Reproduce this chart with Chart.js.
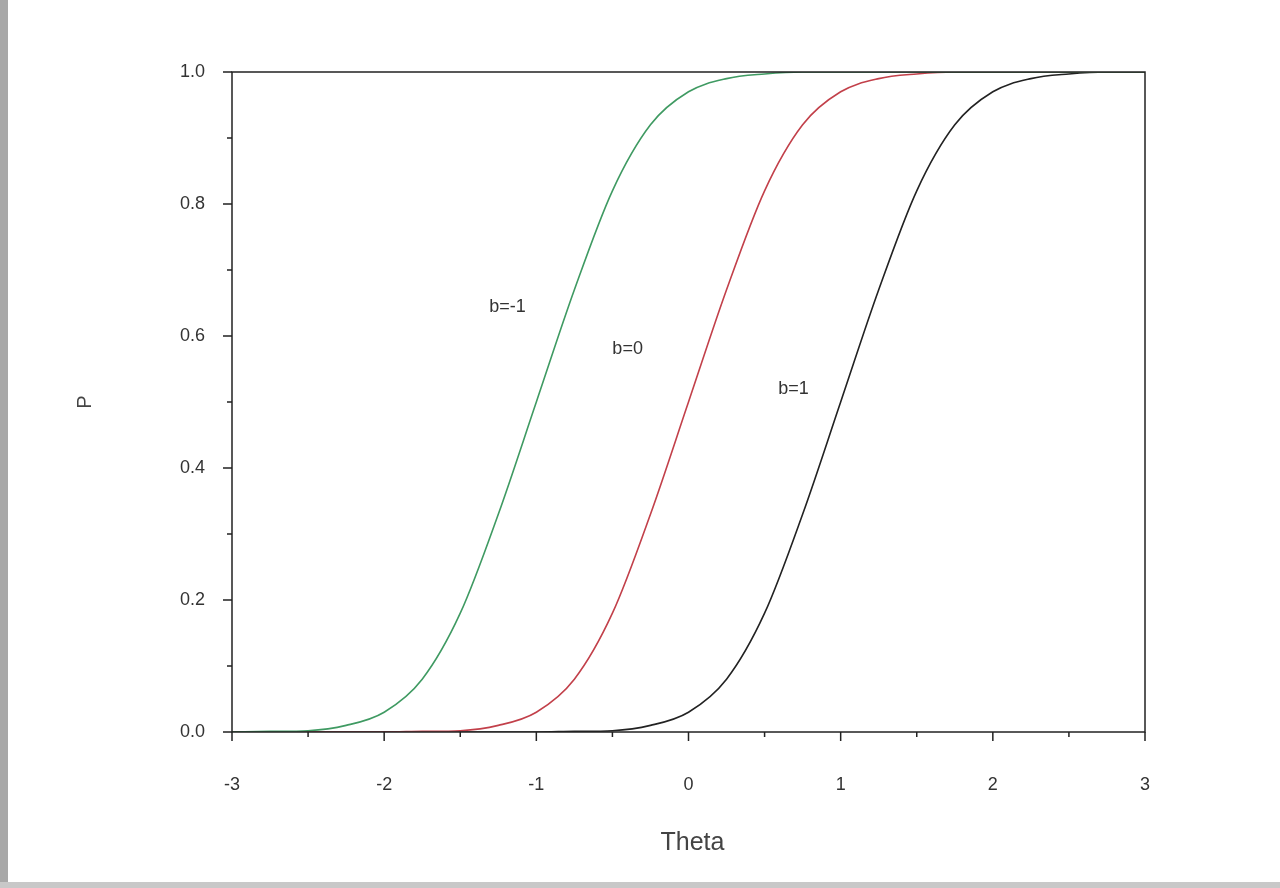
<!DOCTYPE html>
<html><head><meta charset="utf-8">
<script src="https://cdn.jsdelivr.net/npm/chart.js@4"></script>
<style>
html,body{margin:0;padding:0;background:#fff;}
#wrap{position:relative;width:1280px;height:888px;}
#edgeL{position:absolute;left:0;top:0;width:8px;height:888px;background:#a8a8a8;}
#edgeB{position:absolute;left:0;top:882px;width:1280px;height:6px;background:#c8c8c8;}
</style></head><body>
<div id="wrap"><canvas id="c" width="1280" height="888"></canvas><div id="edgeL"></div><div id="edgeB"></div></div>
<script>
const theta = [-3,-2.75,-2.5,-2.25,-2,-1.75,-1.5,-1.25,-1,-0.75,-0.5,-0.25,0,0.25,0.5,0.75,1,1.25,1.5,1.75,2,2.25,2.5,2.75,3];
const pB_m1 = [0,0.001,0.002,0.01,0.03,0.08,0.18,0.33,0.5,0.67,0.82,0.92,0.97,0.99,0.997,1,1,1,1,1,1,1,1,1,1];
const pB_0  = [0,0,0,0,0,0.001,0.002,0.01,0.03,0.08,0.18,0.33,0.5,0.67,0.82,0.92,0.97,0.99,0.997,1,1,1,1,1,1];
const pB_1  = [0,0,0,0,0,0,0,0,0,0.001,0.002,0.01,0.03,0.08,0.18,0.33,0.5,0.67,0.82,0.92,0.97,0.99,0.997,1,1];
const seriesNames = ['b=-1','b=0','b=1'];
const seriesColors = ['#3f9a62','#c2404a','#222222'];
const seriesLabelPos = [[-1.19,0.644],[-0.4,0.58],[0.69,0.52]];
const xTicks = [-3,-2,-1,0,1,2,3];
const yTicks = [0,0.2,0.4,0.6,0.8,1.0];
const xTitle = 'Theta', yTitle = 'P';

const mk = arr => theta.map((t,i)=>({x:t,y:arr[i]}));
const datasets = [pB_m1,pB_0,pB_1].map((a,i)=>({label:seriesNames[i],data:mk(a),borderColor:seriesColors[i],borderWidth:1.6,pointRadius:0,cubicInterpolationMode:'monotone',fill:false}));

const deco = {
  id:'deco',
  afterDraw(ch){
    const c=ch.ctx, a=ch.chartArea, xs=ch.scales.x, ys=ch.scales.y;
    c.save();
    c.strokeStyle='#222'; c.lineWidth=1.5;
    c.strokeRect(a.left,a.top,a.right-a.left,a.bottom-a.top);
    c.beginPath();
    xTicks.forEach(v=>{const p=xs.getPixelForValue(v);c.moveTo(p,a.bottom);c.lineTo(p,a.bottom+9);});
    yTicks.forEach(v=>{const p=ys.getPixelForValue(v);c.moveTo(a.left,p);c.lineTo(a.left-9,p);});
    for(let v=-2.5;v<3;v+=1){const p=xs.getPixelForValue(v);c.moveTo(p,a.bottom);c.lineTo(p,a.bottom+5);}
    for(let v=0.1;v<1;v+=0.2){const p=ys.getPixelForValue(v);c.moveTo(a.left,p);c.lineTo(a.left-5,p);}
    c.stroke();
    c.fillStyle='#333'; c.font='18px "Liberation Sans", Arial, sans-serif';
    c.textAlign='center'; c.textBaseline='middle';
    xTicks.forEach(v=>c.fillText(String(v),xs.getPixelForValue(v),a.bottom+53));
    c.textAlign='right';
    yTicks.forEach(v=>c.fillText(v.toFixed(1),a.left-27,ys.getPixelForValue(v)));
    c.textAlign='center';
    c.font='18px "Liberation Sans", Arial, sans-serif';
    seriesNames.forEach((n,i)=>c.fillText(n,xs.getPixelForValue(seriesLabelPos[i][0]),ys.getPixelForValue(seriesLabelPos[i][1])));
    c.font='25px "Liberation Sans", Arial, sans-serif'; c.fillStyle='#444';
    c.fillText(xTitle,(a.left+a.right)/2+4,843);
    c.save(); c.translate(85,402); c.rotate(-Math.PI/2); c.font='20px "Liberation Sans", Arial, sans-serif'; c.fillText(yTitle,0,0); c.restore();
    c.restore();
  }
};

new Chart(document.getElementById('c'),{
  type:'line',
  data:{datasets},
  options:{
    responsive:false,animation:false,
    layout:{padding:{top:72,right:135,left:0,bottom:0}},
    plugins:{legend:{display:false},tooltip:{enabled:false}},
    scales:{
      x:{type:'linear',min:-3,max:3,grid:{display:false},border:{display:false},ticks:{display:false},afterFit(s){s.height=156;}},
      y:{min:0,max:1,grid:{display:false},border:{display:false},ticks:{display:false},afterFit(s){s.width=232;}}
    }
  },
  plugins:[deco]
});
</script>
</body></html>
